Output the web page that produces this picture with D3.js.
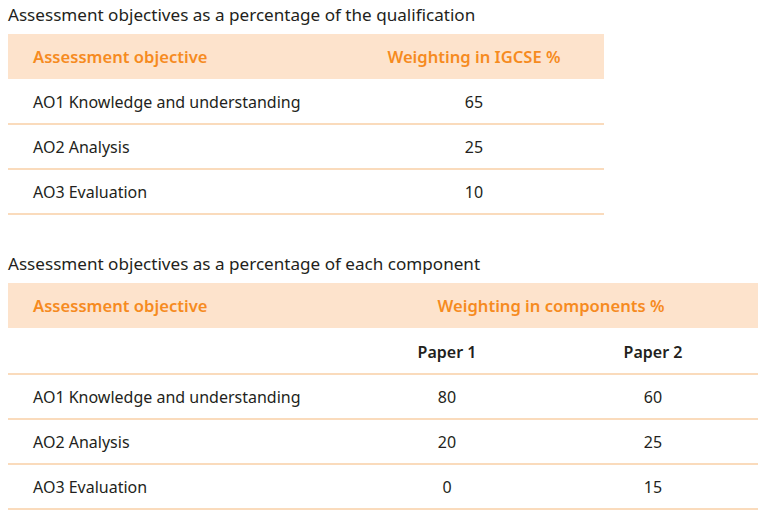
<!DOCTYPE html>
<html><head><meta charset="utf-8">
<script src="https://cdn.jsdelivr.net/npm/d3@7"></script>
<style>body{margin:0;background:#fff}text{font-family:"Noto Sans",sans-serif}</style>
</head><body><svg id="c" width="768" height="518"></svg>
<script>
const title1 = "Assessment objectives as a percentage of the qualification";
const title2 = "Assessment objectives as a percentage of each component";
const objectives = ["AO1 Knowledge and understanding", "AO2 Analysis", "AO3 Evaluation"];
const igcseWeights = [65, 25, 10];
const paperLabels = ["Paper 1", "Paper 2"];
const paper1Weights = [80, 20, 0];
const paper2Weights = [60, 25, 15];

const svg = d3.select("#c");
const orange = "#f68b1f", band = "#fde3cc", line = "#f9cfa6", ink = "#231f20";
const fs = 16, hfs = 16.6;

function title(y, t){ svg.append("text").attr("x",8).attr("y",y).attr("font-size",17.1).attr("fill",ink).text(t); }
function header(y0,x1,cols){
  svg.append("rect").attr("x",8).attr("y",y0).attr("width",x1-8).attr("height",45).attr("fill",band);
  cols.forEach(c=>svg.append("text").attr("x",c.x).attr("y",y0+29).attr("text-anchor",c.a).attr("font-size",hfs)
    .attr("font-weight",600).attr("fill",orange).text(c.t));
}
function sep(y,x1){ svg.append("line").attr("x1",8).attr("x2",x1).attr("y1",y).attr("y2",y).attr("stroke",line).attr("stroke-width",1.5); }

// Table 1
title(21, title1);
header(34, 604, [{x:33,a:"start",t:"Assessment objective"},{x:474,a:"middle",t:"Weighting in IGCSE %"}]);
const y1 = d3.scaleBand().domain(objectives).range([79,214]);
objectives.forEach((o,i)=>{
  const cy = y1(o)+y1.bandwidth()/2;
  svg.append("text").attr("x",33).attr("y",cy+6).attr("font-size",fs).attr("fill",ink).text(o);
  svg.append("text").attr("x",474).attr("y",cy+6).attr("text-anchor","middle").attr("font-size",fs).attr("fill",ink).text(igcseWeights[i]);
  sep(y1(o)+y1.bandwidth(),604);
});

// Table 2
title(270, title2);
header(283, 758, [{x:33,a:"start",t:"Assessment objective"},{x:551,a:"middle",t:"Weighting in components %"}]);
const px = [447, 653];
paperLabels.forEach((p,j)=>svg.append("text").attr("x",px[j]).attr("y",358).attr("text-anchor","middle")
  .attr("font-size",fs).attr("font-weight",600).attr("fill",ink).text(p));
sep(374,758);
const y2 = d3.scaleBand().domain(objectives).range([374,509]);
objectives.forEach((o,i)=>{
  const cy = y2(o)+y2.bandwidth()/2;
  svg.append("text").attr("x",33).attr("y",cy+6).attr("font-size",fs).attr("fill",ink).text(o);
  [paper1Weights[i],paper2Weights[i]].forEach((v,j)=>svg.append("text").attr("x",px[j]).attr("y",cy+6)
    .attr("text-anchor","middle").attr("font-size",fs).attr("fill",ink).text(v));
  sep(y2(o)+y2.bandwidth(),758);
});
</script></body></html>
